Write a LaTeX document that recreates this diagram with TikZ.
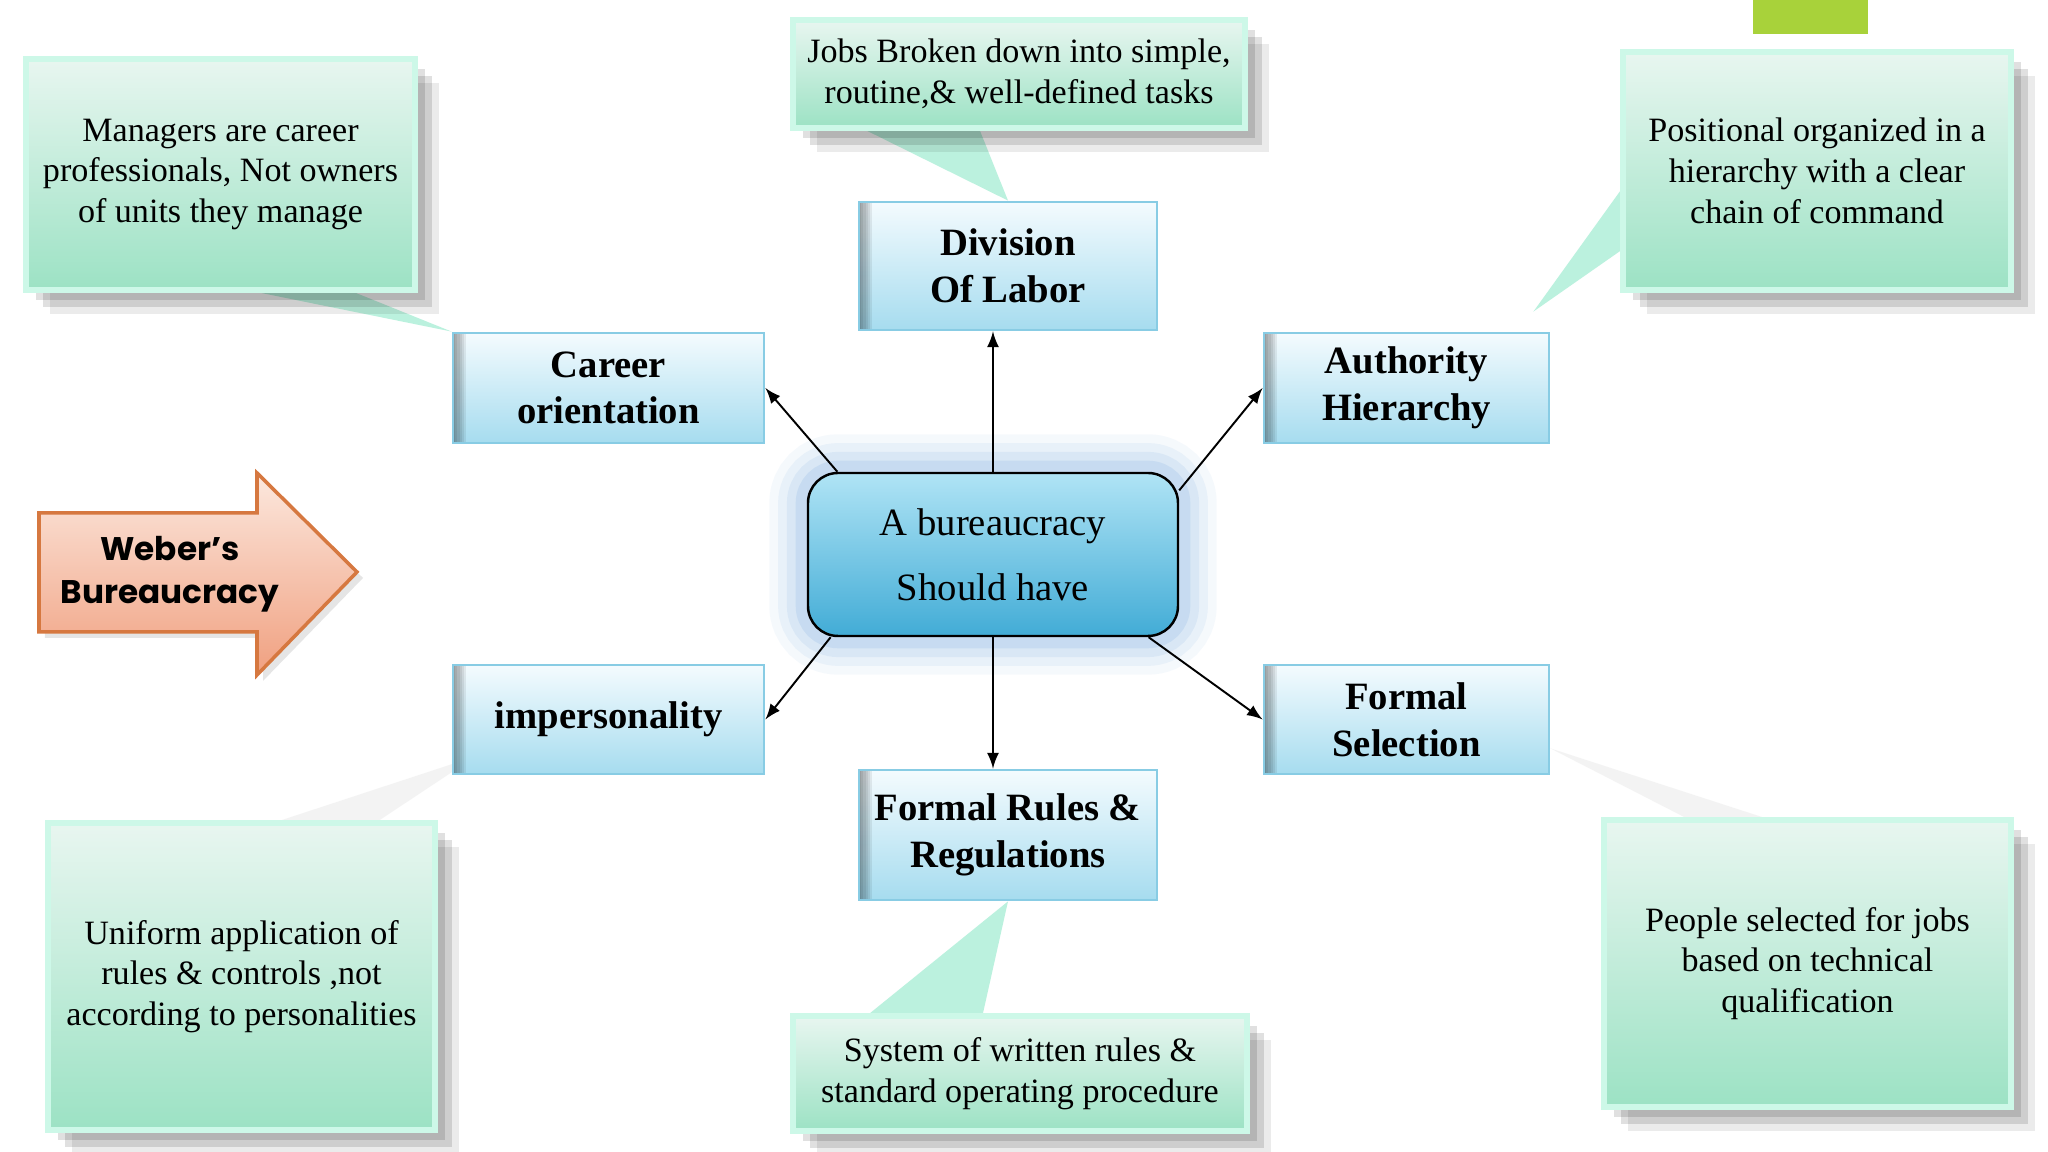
\documentclass[tikz,border=0pt]{standalone}
\usepackage{fontspec}
\setmainfont{Liberation Serif}
\newfontfamily\weberfont{Poppins}
\usetikzlibrary{arrows,shadows}

\definecolor{boxtop}{RGB}{244,251,254}
\definecolor{boxbot}{RGB}{166,220,239}
\definecolor{boxedge}{RGB}{136,204,228}
\definecolor{midtop}{RGB}{176,228,245}
\definecolor{midbot}{RGB}{66,172,214}
\definecolor{glow}{RGB}{70,140,215}
\definecolor{notetop}{RGB}{232,246,240}
\definecolor{notebot}{RGB}{156,226,196}
\definecolor{noteedge}{RGB}{205,248,232}
\definecolor{tipcol}{RGB}{170,238,214}
\definecolor{webertop}{RGB}{252,232,222}
\definecolor{weberbot}{RGB}{240,160,128}
\definecolor{weberedge}{RGB}{214,120,64}
\definecolor{lime}{RGB}{168,210,58}

\pgfdeclarelayer{background}
\pgfsetlayers{background,main}

\begin{document}
\begin{tikzpicture}[>=latex,
    sub node/.style={rectangle,draw=boxedge,line width=0.8pt,top color=boxtop,bottom color=boxbot,
      inner sep=0pt,align=center,font=\bfseries\fontsize{11}{13.3}\selectfont,
      path picture={\foreach \k in {1,...,6}
        \fill[black,opacity=0.07] (path picture bounding box.south west)
          rectangle ([xshift=\k*0.022cm]path picture bounding box.north west);}},
    main node/.style={rectangle,rounded corners=0.3cm,draw=black,line width=0.7pt,
      top color=midtop,bottom color=midbot,minimum width=3.7cm,minimum height=1.63cm,
      align=center,font=\fontsize{11}{18.5}\selectfont,
      preaction={draw=glow,line width=22pt,draw opacity=0.05},
      preaction={draw=glow,line width=17pt,draw opacity=0.07},
      preaction={draw=glow,line width=12pt,draw opacity=0.09},
      preaction={draw=glow,line width=7pt,draw opacity=0.12}},
    note/.style={rectangle,draw=noteedge,line width=1.6pt,top color=notetop,bottom color=notebot,
      align=center,font=\fontsize{9.7}{11.6}\selectfont,
      drop shadow={shadow xshift=0.24cm,shadow yshift=-0.24cm,opacity=0.08,fill=black},
      drop shadow={shadow xshift=0.17cm,shadow yshift=-0.17cm,opacity=0.12,fill=black},
      drop shadow={shadow xshift=0.1cm,shadow yshift=-0.1cm,opacity=0.12,fill=black}},
    pointer/.style={fill=tipcol,fill opacity=0.8},
    faint pointer/.style={fill=black!8,fill opacity=0.6},
    link/.style={->,line width=0.55pt}]

  \useasboundingbox (0,0) rectangle (20.48,11.52);
  \fill[lime] (17.53,11.18) rectangle (18.68,11.52);

  % centre and the six features
  \node[main node] (bur) at (9.93,5.975) {A bureaucracy\\Should have};
  \node[sub node,minimum width=2.98cm,minimum height=1.28cm] (div) at (10.08,8.86) {Division\\Of Labor};
  \node[sub node,minimum width=3.11cm,minimum height=1.10cm] (car) at (6.085,7.64) {Career\\orientation};
  \node[sub node,minimum width=2.85cm,minimum height=1.10cm] (auth) at (14.065,7.64) {Authority\\Hierarchy};
  \node[sub node,minimum width=3.11cm,minimum height=1.09cm] (imp) at (6.085,4.325) {impersonality};
  \node[sub node,minimum width=2.85cm,minimum height=1.09cm] (sel) at (14.065,4.325) {Formal\\Selection};
  \node[sub node,minimum width=2.98cm,minimum height=1.30cm] (rules) at (10.08,3.17) {Formal Rules \&\\Regulations};

  % callouts
  \node[note,minimum width=4.52cm,minimum height=1.08cm] (nDiv) at (10.19,10.78) {Jobs Broken down into simple,\\routine,\& well-defined tasks};
  \node[note,minimum width=3.89cm,minimum height=2.31cm] (nCar) at (2.205,9.775) {Managers are career\\professionals, Not owners\\of units they manage};
  \node[note,minimum width=3.88cm,minimum height=2.38cm] (nAuth) at (18.17,9.81) {Positional organized in a\\hierarchy with a clear\\chain of command};
  \node[note,minimum width=3.87cm,minimum height=3.07cm] (nImp) at (2.415,1.755) {Uniform application of\\rules \& controls ,not\\according to personalities};
  \node[note,minimum width=4.54cm,minimum height=1.15cm] (nRules) at (10.20,0.785) {System of written rules \&\\standard operating procedure};
  \node[note,minimum width=4.07cm,minimum height=2.87cm] (nSel) at (18.075,1.885) {People selected for jobs\\based on technical\\qualification};

  % Weber's arrow
  \draw[weberedge,line width=1pt,top color=webertop,bottom color=weberbot,
        drop shadow={shadow xshift=0.06cm,shadow yshift=-0.06cm,opacity=0.2}]
    (0.39,6.39) -- (2.57,6.39) -- (2.57,6.79) -- (3.57,5.80) -- (2.57,4.77) -- (2.57,5.20) -- (0.39,5.20) -- cycle;
  \node[font=\weberfont\bfseries\fontsize{9.3}{12.2}\selectfont,align=center] (weber) at (1.70,5.78) {Weber’s\\Bureaucracy};

  \path[link]
    (bur.north) edge (bur.north |- div.south)
    (bur.152) edge (car.east)
    (bur.19) edge (auth.west)
    (bur.207) edge (imp.east)
    (bur.south) edge (bur.south |- rules.north)
    (bur.-28) edge (sel.west);

  \begin{pgfonlayer}{background}
    \fill[white] (0,0) rectangle (20.48,11.52);
    \fill[pointer] ([xshift=-1.52cm]nDiv.south) -- ([xshift=-0.39cm]nDiv.south) -- (div.north) -- cycle;
    \fill[pointer] ([xshift=0.4cm]nCar.south) -- ([xshift=1.35cm]nCar.south) -- (car.north west) -- cycle;
    \fill[pointer] ([yshift=-0.2cm]nAuth.west) -- ([yshift=-0.8cm]nAuth.west) -- ([shift={(-0.17,0.2)}]auth.north east) -- cycle;
    \fill[faint pointer] ([xshift=0.4cm]nImp.north) -- ([xshift=1.38cm]nImp.north) -- ([shift={(0.24,0.19)}]imp.south west) -- cycle;
    \fill[pointer] ([xshift=-1.5cm]nRules.north) -- ([xshift=-0.37cm]nRules.north) -- (rules.south) -- cycle;
    \fill[faint pointer] ([xshift=-1.23cm]nSel.north) -- ([xshift=-0.45cm]nSel.north) -- ([yshift=0.27cm]sel.south east) -- cycle;
  \end{pgfonlayer}
\end{tikzpicture}
\end{document}
